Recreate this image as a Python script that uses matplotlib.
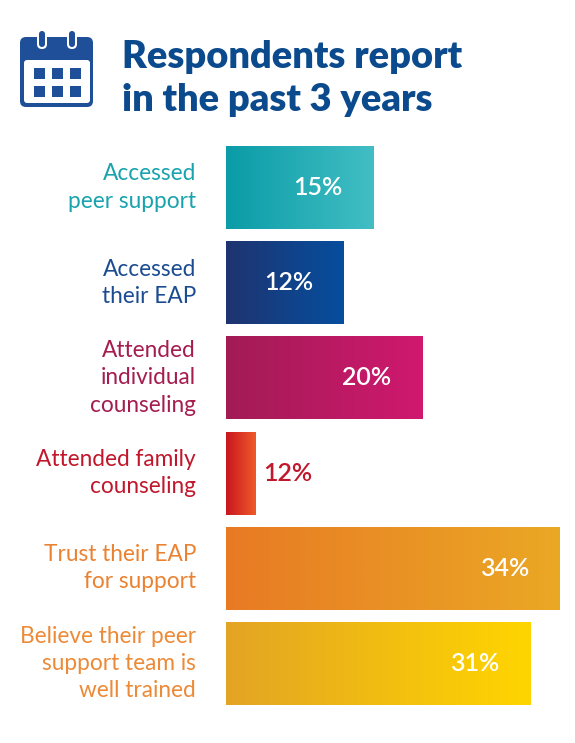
import matplotlib
matplotlib.use("Agg")
import matplotlib.pyplot as plt
import numpy as np
from matplotlib.colors import LinearSegmentedColormap
from matplotlib.patches import FancyBboxPatch, Rectangle

# ---- data ----
categories = [
    "Accessed\npeer support",
    "Accessed\ntheir EAP",
    "Attended\nindividual\ncounseling",
    "Attended family\ncounseling",
    "Trust their EAP\nfor support",
    "Believe their peer\nsupport team is\nwell trained",
]
bar_values = [15, 12, 20, 3, 34, 31]          # bar lengths as drawn
value_labels = ["15%", "12%", "20%", "12%", "34%", "31%"]
title_lines = ["Respondents report", "in the past 3 years"]

# ---- styles ----
grad_left = ["#0a9ca7", "#1f3470", "#a21c55", "#c8161f", "#e87a24", "#e3a424"]
grad_right = ["#42bec4", "#054e9e", "#d0186f", "#ef5a2a", "#eba824", "#ffd500"]
label_colors = ["#19a3ae", "#1b4c91", "#a51d4f", "#c1172c", "#ea8232", "#ec8a37"]
title_color = "#0b4a8c"
icon_color = "#1e4f98"

FONT = ["Lato", "DejaVu Sans"]
plt.rcParams["font.family"] = FONT

W, H = 575, 743
fig = plt.figure(figsize=(W / 100, H / 100), dpi=100)
fig.patch.set_facecolor("white")

# background overlay in pixel coordinates (icon + title)
bg = fig.add_axes([0, 0, 1, 1])
bg.set_xlim(0, W)
bg.set_ylim(H, 0)
bg.axis("off")

# calendar icon
bg.add_patch(FancyBboxPatch((20, 37), 73, 70, boxstyle="round,pad=0,rounding_size=6",
                            fc=icon_color, ec="none"))
bg.add_patch(FancyBboxPatch((24, 60), 66, 43, boxstyle="round,pad=0,rounding_size=3",
                            fc="white", ec="none"))
for cx in (42, 72):
    bg.add_patch(FancyBboxPatch((cx - 5, 29), 10, 20, boxstyle="round,pad=0,rounding_size=5",
                                fc="white", ec="none"))
    bg.add_patch(FancyBboxPatch((cx - 3, 31), 6, 16, boxstyle="round,pad=0,rounding_size=3",
                                fc=icon_color, ec="none"))
for gy in (68, 86):
    for gx in (34, 52, 70):
        bg.add_patch(Rectangle((gx, gy), 10.5, 10.5, fc=icon_color, ec="none"))

# title
for k, line in enumerate(title_lines):
    bg.text(122, 68 + 43 * k, line, color=title_color, fontsize=27.4,
            fontweight="heavy", ha="left", va="baseline", family=FONT)

# ---- bar axes ----
px_per_pct = 9.82
x0_px = 226
pitch_px = 95.2
first_center_px = 187.5
ax = fig.add_axes([x0_px / W, 0, 1 - x0_px / W, 1])
ax.axis("off")

n = len(bar_values)
ypos = np.arange(n)
h = 83 / pitch_px
bars = ax.barh(ypos, bar_values, height=h, color=grad_left, zorder=1)

grad = np.linspace(0, 1, 256).reshape(1, -1)
for i, (b, v) in enumerate(zip(bars, bar_values)):
    cmap = LinearSegmentedColormap.from_list(f"g{i}", [grad_left[i], grad_right[i]])
    im = ax.imshow(grad, extent=(0, v, i + h / 2, i - h / 2), cmap=cmap,
                   aspect="auto", zorder=2, interpolation="bilinear")
    im.set_clip_path(b)

    # category labels (right aligned, left of the bars)
    ax.annotate(categories[i], xy=(0, i), xytext=(-30 * 0.72, 0),
                textcoords="offset points", ha="right", va="center",
                multialignment="right", color=label_colors[i], fontsize=16.3,
                linespacing=1.36, annotation_clip=False)

    # value labels
    if v >= 6:
        ax.annotate(value_labels[i], xy=(v, i), xytext=(-31 * 0.72, 0),
                    textcoords="offset points", ha="right", va="center",
                    color="white", fontsize=18, fontweight="semibold",
                    annotation_clip=False, zorder=3)
    else:
        ax.annotate(value_labels[i], xy=(v, i), xytext=(8 * 0.72, 0),
                    textcoords="offset points", ha="left", va="center",
                    color=label_colors[i], fontsize=18, fontweight="semibold",
                    annotation_clip=False, zorder=3)

ax.set_xlim(0, (W - x0_px) / px_per_pct)
ax.set_ylim((H - first_center_px) / pitch_px, -first_center_px / pitch_px)

fig.savefig("out.png", dpi=100, facecolor="white")
